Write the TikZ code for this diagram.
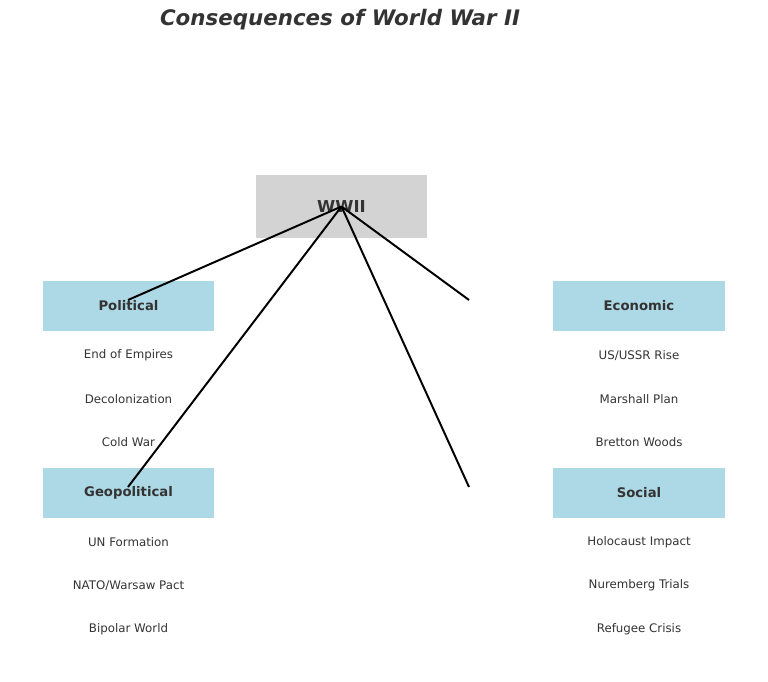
\documentclass[tikz,border=0pt]{standalone}
\usepackage{fontspec}
\setmainfont{DejaVu Sans}
\usetikzlibrary{positioning}
\definecolor{boxblue}{RGB}{173,216,230}
\definecolor{boxgray}{RGB}{211,211,211}
\definecolor{txt}{RGB}{51,51,51}
\tikzset{
	cat/.style={fill=boxblue, minimum width=4.275cm, minimum height=1.25cm, text=txt, font=\fontsize{9.4}{11}\selectfont\bfseries},
	item/.style={text=txt, font=\fontsize{8.4}{10}\selectfont},
	link/.style={draw=black, line width=1.4pt}
}
\begin{document}
\begin{tikzpicture}[x=0.025cm, y=-0.025cm, node distance=1.0875cm]
		\useasboundingbox (0,0) rectangle (768,682);
		\node (title) at (340,19.5) [text=txt, font=\fontsize{15.2}{18}\selectfont\bfseries\itshape] {Consequences of World War II};
		\node (wwii) at (341.5,206.5) [fill=boxgray, minimum width=4.275cm, minimum height=1.575cm, text=txt, font=\fontsize{11.7}{14}\selectfont\bfseries] {WWII};
		\node (pol) at (128.5,306) [cat] {Political};
		\node (eco) at (639,306) [cat] {Economic};
		\node (geo) at (128.5,493) [cat] {Geopolitical};
		\node (soc) at (639,493) [cat] {Social};
		\node (p1) [item, below of = pol, yshift=-0.14cm] {End of Empires};
		\node (p2) [item, below of = p1] {Decolonization};
		\node (p3) [item, below of = p2] {Cold War};
		\node (e1) [item, below of = eco, yshift=-0.14cm] {US/USSR Rise};
		\node (e2) [item, below of = e1] {Marshall Plan};
		\node (e3) [item, below of = e2] {Bretton Woods};
		\node (g1) [item, below of = geo, yshift=-0.14cm] {UN Formation};
		\node (g2) [item, below of = g1] {NATO/Warsaw Pact};
		\node (g3) [item, below of = g2] {Bipolar World};
		\node (s1) [item, below of = soc, yshift=-0.14cm] {Holocaust Impact};
		\node (s2) [item, below of = s1] {Nuremberg Trials};
		\node (s3) [item, below of = s2] {Refugee Crisis};
		\coordinate (polend) at (128,300);
		\coordinate (geoend) at (128,487);
		\coordinate (ecoend) at (469,300);
		\coordinate (socend) at (469,487);
		\draw [link] (wwii.center) -- (polend);
		\draw [link] (wwii.center) -- (geoend);
		\draw [link] (wwii.center) -- (ecoend);
		\draw [link] (wwii.center) -- (socend);
\end{tikzpicture}
\end{document}
